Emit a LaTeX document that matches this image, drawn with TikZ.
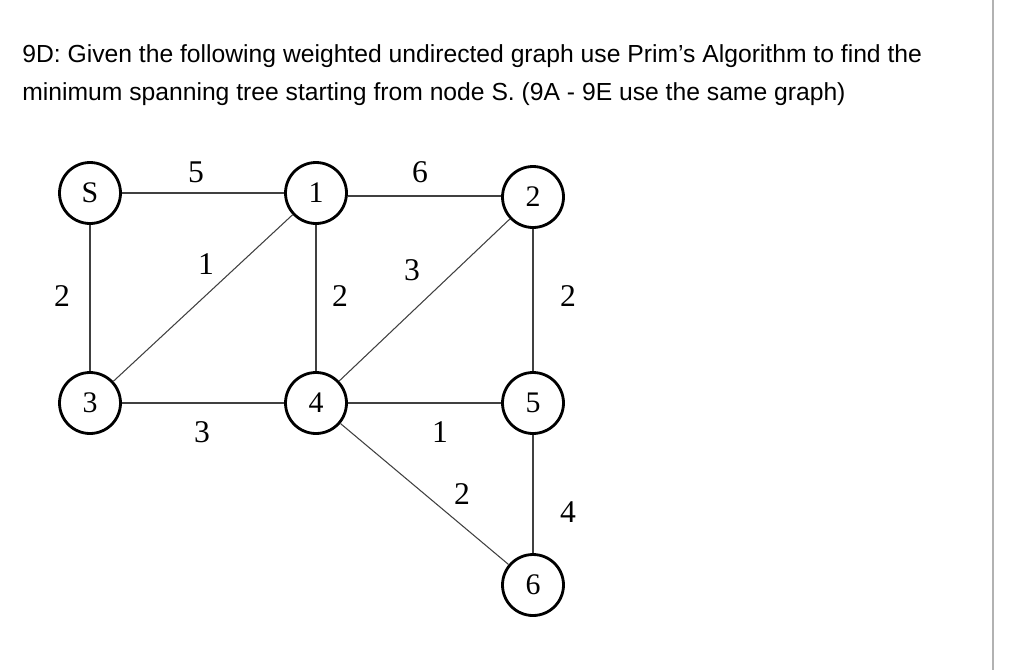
\documentclass[tikz,border=0pt]{standalone}
\usepackage{fontspec}
\setmainfont{Liberation Serif}
\newfontfamily\titlefont{Liberation Sans}
\begin{document}
\begin{tikzpicture}[x=0.02cm,y=-0.02cm,
  vert/.style={circle,draw=black,line width=1.6pt,minimum size=1.22cm,inner sep=0pt,font=\fontsize{17}{19}\selectfont},
  edge/.style={draw=black!75,line width=0.6pt},
  wt/.style={font=\fontsize{18}{20}\selectfont},
  title/.style={anchor=base west,inner sep=0pt,font=\titlefont\fontsize{14.05}{16}\selectfont}]
\useasboundingbox (0,0) rectangle (1010,670);
\fill[white] (0,0) rectangle (1010,670);
\draw[black!30,line width=1pt] (993,0) -- (993,670);
\node[title] (t1) at (22,62) {9D: Given the following weighted undirected graph use Prim’s Algorithm to find the};
\node[title] (t2) at (22,100) {minimum spanning tree starting from node S. (9A - 9E use the same graph)};
\node[vert] (S) at (90,193) {S};
\node[vert] (n1) at (316,193) {1};
\node[vert] (n2) at (533,197) {2};
\node[vert] (n3) at (90,403) {3};
\node[vert] (n4) at (316,403) {4};
\node[vert] (n5) at (533,403) {5};
\node[vert] (n6) at (533,585) {6};
\draw[edge] (S) -- (n1);
\draw[edge] (n1.east |- 0,196) -- (n2.west |- 0,196);
\draw[edge] (S) -- (n3);
\draw[edge] (n3) -- (n1);
\draw[edge] (n1) -- (n4);
\draw[edge] (n4) -- (n2);
\draw[edge] (n2) -- (n5);
\draw[edge] (n3) -- (n4);
\draw[edge] (n4) -- (n5);
\draw[edge] (n4) -- (n6);
\draw[edge] (n5) -- (n6);
\node[wt] (w1) at (196,172) {5};
\node[wt] (w2) at (420,172) {6};
\node[wt] (w3) at (62,296) {2};
\node[wt] (w4) at (206,264) {1};
\node[wt] (w5) at (340,296) {2};
\node[wt] (w6) at (412,270) {3};
\node[wt] (w7) at (568,296) {2};
\node[wt] (w8) at (202,432) {3};
\node[wt] (w9) at (440,432) {1};
\node[wt] (w10) at (462,494) {2};
\node[wt] (w11) at (568,512) {4};
\end{tikzpicture}
\end{document}
